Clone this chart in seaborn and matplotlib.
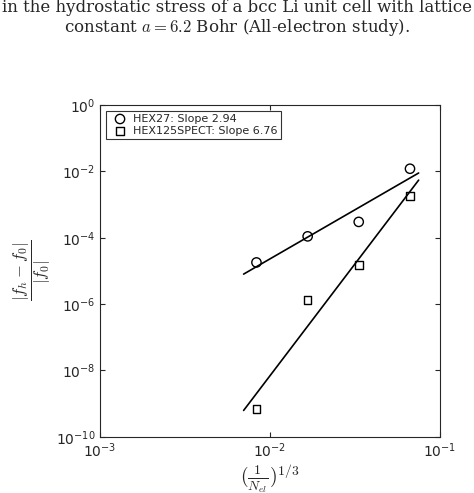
import numpy as np
import matplotlib
matplotlib.use("Agg")
import matplotlib.pyplot as plt
import seaborn as sns

sns.set_style("ticks")
plt.rcParams['font.family'] = ['DejaVu Sans']
plt.rcParams['mathtext.fontset'] = 'cm'

x_vals = [0.00833, 0.01667, 0.0333, 0.0667]
hex27 = [1.8e-5, 1.1e-4, 3.0e-4, 1.2e-2]
hex125 = [7e-10, 1.3e-6, 1.5e-5, 1.8e-3]
labels = ["HEX27: Slope 2.94", "HEX125SPECT: Slope 6.76"]

fig = plt.figure(figsize=(4.74, 4.93), dpi=100)
ax = fig.add_axes([0.211, 0.114, 0.717, 0.673])
fig.text(0.5, 0.985, "in the hydrostatic stress of a bcc Li unit cell with lattice",
         ha='center', va='center', fontsize=12, family='DejaVu Serif')
fig.text(0.5, 0.945, r"constant $a = 6.2$ Bohr (All-electron study).",
         ha='center', va='center', fontsize=12, family='DejaVu Serif')

xf = np.array([0.007, 0.075])
for y, m, lab in [(hex27, 'o', labels[0]), (hex125, 's', labels[1])]:
    sns.scatterplot(x=x_vals, y=y, marker=m, s=45 if m == 'o' else 30, facecolor='none',
                    edgecolor='black', linewidth=1, ax=ax, label=lab)
    p = np.polyfit(np.log10(x_vals), np.log10(y), 1)
    ax.plot(xf, 10**np.polyval(p, np.log10(xf)), color='black', lw=1.2)

ax.set_xscale('log'); ax.set_yscale('log')
ax.set_xlim(1e-3, 1e-1); ax.set_ylim(1e-10, 1)
ax.set_yticks([1e-10, 1e-8, 1e-6, 1e-4, 1e-2, 1])
ax.minorticks_off()
ax.tick_params(direction='in', top=True, right=True, labelsize=10)
for s in ax.spines.values():
    s.set_linewidth(0.8)
ax.set_xlabel(r"$(\frac{1}{N_{el}})^{1/3}$", fontsize=14, labelpad=1)
ax.set_ylabel(r"$\dfrac{|f_h - f_0|}{|f_0|}$", fontsize=12, labelpad=2)
leg = ax.legend(loc='upper left', fontsize=8, frameon=True, fancybox=False,
                edgecolor='black', borderpad=0.3, handletextpad=0.2, labelspacing=0.2)
leg.get_frame().set_linewidth(0.8)
fig.savefig("out.png", dpi=100)
